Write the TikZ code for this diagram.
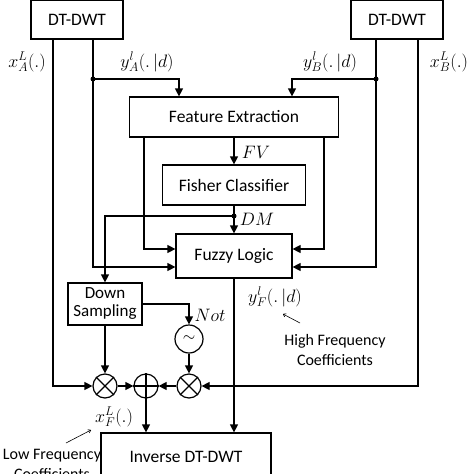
\documentclass[tikz,border=0pt]{standalone}
\usepackage{fix-cm}
\usepackage{fontspec}
\setmainfont{Carlito}
\usetikzlibrary{arrows.meta,calc}
\begin{document}
\begin{tikzpicture}[x=1pt,y=-1pt,
  box/.style={draw,line width=1.2pt,rectangle,inner sep=0pt,font=\fontsize{17.5}{20}\selectfont,align=center},
  op/.style={draw,line width=1.2pt,circle,minimum size=24pt,inner sep=0pt},
  arr/.style={line width=1.2pt,-{Triangle[length=8pt,width=8pt]}},
  ln/.style={line width=1.2pt},
  lab/.style={font=\fontsize{18}{20}\selectfont,inner sep=0pt},
  note/.style={font=\fontsize{16}{18}\selectfont},
  pt/.style={line width=0.6pt,-{To[length=3pt,width=4pt]}}]
\useasboundingbox (0,0) rectangle (474,474);
% boxes
\node[box,minimum width=92pt,minimum height=39pt] (dtA) at (77,19.5) {DT-DWT};
\node[box,minimum width=92pt,minimum height=39pt] (dtB) at (397,19.5) {DT-DWT};
\node[box,minimum width=209pt,minimum height=40pt] (fe) at (234,117) {Feature Extraction};
\node[box,minimum width=143pt,minimum height=40pt] (fc) at (234,185) {Fisher Classifier};
\node[box,minimum width=116pt,minimum height=44pt] (fl) at (234,256) {Fuzzy Logic};
\node[box,minimum width=74pt,minimum height=42pt,font=\fontsize{17}{18}\selectfont] (ds) at (105,304) {Down\\Sampling};
\node[box,minimum width=170pt,minimum height=54pt] (inv) at (186,460) {\raisebox{6pt}{Inverse DT-DWT}};
\node[op] (mul1) at (105,386) {};
\node[op] (add) at (146,386) {};
\node[op] (mul2) at (189,386) {};
\node[op,minimum size=28pt,font=\fontsize{16}{18}\selectfont] (notc) at (189,339) {$\sim$};
% operator symbols
\draw[ln] (mul1.north west) -- (mul1.south east) (mul1.north east) -- (mul1.south west);
\draw[ln] (mul2.north west) -- (mul2.south east) (mul2.north east) -- (mul2.south west);
\draw[ln] (add.north) -- (add.south) (add.west) -- (add.east);
% coordinates
\coordinate (dA) at (93,79);
\coordinate (dB) at (376,79);
\coordinate (dM) at (234,216);
\coordinate (xA) at (53,386);
\coordinate (xB) at (418,386);
% connectors
\draw[arr] (dtA.south -| xA) -- (xA) -- (mul1.west);
\draw[arr] (dtB.south -| xB) -- (xB) -- (mul2.east);
\draw[arr] (dtA.south -| dA) |- ([yshift=-11pt]fl.west);
\draw[arr] (dtB.south -| dB) |- ([yshift=-11pt]fl.east);
\fill (dA) circle (2.5);
\fill (dB) circle (2.5);
\draw[arr] (dA) -| ([xshift=-55pt]fe.north);
\draw[arr] (dB) -| ([xshift=58pt]fe.north);
\draw[arr] (fe) -- (fc);
\draw[arr] ([xshift=-90pt]fe.south) |- ([yshift=7pt]fl.west);
\draw[arr] ([xshift=90pt]fe.south) |- ([yshift=7pt]fl.east);
\draw[arr] (fc) -- (fl);
\fill (dM) circle (2.5);
\draw[arr] (dM) -| (ds.north);
\draw[arr] (ds.east) -| (notc.north);
\draw[arr] (notc) -- (mul2);
\draw[arr] (ds) -- (mul1);
\draw[arr] (mul1) -- (add);
\draw[arr] (mul2) -- (add);
\draw[arr] (add) -- (add |- inv.north);
\draw[arr] (fl) -- (fl |- inv.north);
% labels
\node[lab] (lxA) at (27,62) {$x_A^L(.)$};
\node[lab] (lyA) at (147,62) {$y_A^l(.\,|d)$};
\node[lab] (lyB) at (330,62) {$y_B^l(.\,|d)$};
\node[lab] (lxB) at (449,62) {$x_B^L(.)$};
\node[lab] (lFV) at (256,152) {$FV$};
\node[lab] (lDM) at (257,219) {$DM$};
\node[lab] (lNot) at (210,315) {$Not$};
\node[lab] (lyF) at (275,297) {$y_F^l(.\,|d)$};
\node[lab] (lxF) at (114,417) {$x_F^L(.)$};
\node[note,align=center] (hf) at (335,349.5) {High Frequency\\[2pt]Coefficients};
\node[note,align=center] (lf) at (52,464) {Low Frequency\\[2pt]Coefficients};
\coordinate (h1) at (300,323);
\coordinate (h2) at (283,314);
\coordinate (l1) at (66,443);
\coordinate (l2) at (91,430);
\draw[pt] (h1) -- (h2);
\draw[pt] (l1) -- (l2);
\end{tikzpicture}
\end{document}
